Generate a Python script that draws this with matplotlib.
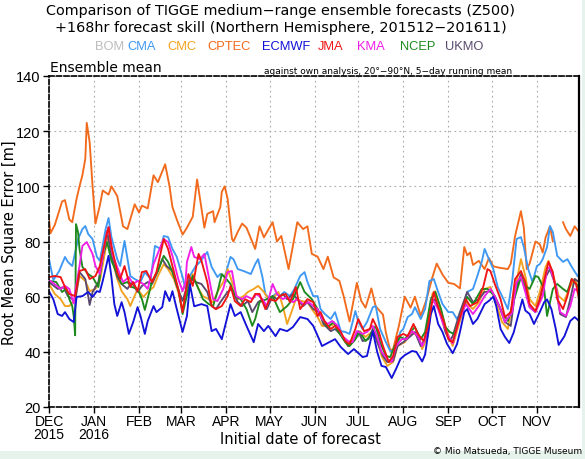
import numpy as np
import pandas as pd
import matplotlib
matplotlib.use("Agg")
import matplotlib.pyplot as plt
from matplotlib.patches import Rectangle
from matplotlib import font_manager

start = pd.Timestamp("2015-12-01")

# ---- data: (day offset from 2015-12-01, RMSE [m]) ----
cptec_d = [0,1,4,9,11,14,16,19,21,23,25,26,28,30,32,35,37,41,43,47,51,54,59,62,64,68,72,75,80,83,85,88,92,95,99,102,104,107,109,113,114,118,119,121,123,126,127,130,133,136,142,145,148,154,157,160,165,171,175,178,181,185,189,192,196,200,203,207,212,215,218,222,225,230,232,235,237,241,245,249,252,256,260,264,267,271,275,279,283,286,288,290,292,296,300,303,306,310,316,318,321,325,327,329,331,335,338,340,342,345,347,349,354,356,359,362,365]
cptec_v = [88,83,86,94.5,95,88,87,95.5,100,104,110,123,116,100,86.5,93,98.5,97,100,96.5,85.5,84.5,93.5,90.5,93,92,104,101.5,108,100,92.5,88,82.5,85,89,102.5,95.5,85,90,91,87,92.5,98,100,95.5,81,80,83.5,86.5,85,77.3,85.5,81.5,87,80,82,70,87,84.5,85.5,75.5,74.5,70,74.5,67,65.7,60,51,65,58.5,56,63,56.5,53.5,47,40.5,41,49.5,60,56,60,53,59,67,72,68,65,64.6,63,78,75,76,71.5,73,70,74,71,70.5,70,72,82,91,85,70,72,80,79,76,81.5,85.5,80,np.nan,87,84.5,82,85.5,83.5]

ecmwf_d = [0,3,6,9,11,14,17,19,23,27,30,33,35,37,41,43,45,47,50,52,55,58,61,63,66,68,72,74,78,80,83,85,88,92,95,97,100,105,109,112,115,119,123,125,128,132,136,141,144,148,151,156,159,164,168,173,178,182,186,188,193,197,201,206,210,216,219,223,226,229,232,236,239,242,245,250,253,257,259,263,265,268,271,274,278,281,283,286,288,292,295,300,303,306,308,311,314,317,320,323,326,328,331,334,338,341,343,346,349,351,355,359,362,365]
ecmwf_v = [62,59,53.7,53,54.4,51.9,50.8,59.9,60.2,61.7,59.9,62,61.7,65.7,74.8,67.1,57.3,53,58,54.4,46.5,50.8,56.2,53,46.5,51.2,56.6,54.4,56.2,62,58.4,62,55.5,47.2,53,64.5,56.5,57.3,56.6,47.5,48.3,44.6,53,57.3,53,54.4,49.4,43.5,50.1,47.5,49.4,45.7,48.3,47.5,49,52.6,51.9,49.4,44.6,42.1,43.5,44.6,41.7,39.2,41,38.1,38.5,47.5,40,34.9,34.5,30.5,33.8,37.4,38.8,40.3,40,36.5,39,53.7,56.6,50.1,47.2,43,39.5,42.8,47.2,54.4,55.5,50.1,51.9,57.3,58.5,60,56.6,48.3,45.4,43.2,47,53,59,55,53.7,50.1,54.4,58,59,55.5,48.3,42.5,45.7,51.2,52.6,51.2]

cma_d = [0,3,7,11,13,16,20,23,25,27,30,33,35,39,41,43,47,49,52,56,59,63,66,70,73,77,79,82,85,88,92,94,97,101,104,109,112,116,118,121,125,127,130,134,139,142,144,147,149,152,156,159,162,166,169,173,176,178,182,185,187,190,194,197,201,204,207,211,213,216,219,223,225,228,232,235,238,242,244,247,250,252,256,259,262,265,268,271,275,278,281,285,288,292,295,298,300,302,306,309,313,316,319,322,325,327,330,333,336,338,340,343,345,347,350,354,357,360,364]
cma_v = [73.6,66,69.3,74.4,72.6,71.1,80.9,84.5,85.6,82.7,80.9,74.4,73,84.5,88.5,81.6,73.6,71.1,80.2,67.5,66.4,65.3,68.9,66.4,78.4,77.3,82,81.6,77.3,74.4,67.1,62.8,67.5,71.1,72.6,76.2,70.8,67.1,68.2,67.1,74.4,73.6,70,69.3,68.2,71.8,73.6,67.1,61,59.1,61,60.2,61.7,60.2,62.8,67.5,68.9,65.3,60.2,60.2,55.5,53.7,51.9,54.4,47.5,47.2,46.5,54.8,50.8,48.3,50.8,56.2,56.6,48.3,43.5,40.3,40.3,47.2,48.3,52.6,53.7,56.2,51.9,55.5,65.7,66.4,61.7,57.3,54.4,54.4,51.9,55.5,61.7,62.8,67.5,72.6,77.3,74.8,70,63.5,59.1,55.5,65.7,80.9,81.6,78,70,65.3,71.1,71.8,73.6,78,85.6,83.4,74.8,72.6,73.6,70.8,67.5]

jma_d = [0,4,8,11,14,18,21,25,28,32,35,39,41,43,47,49,52,56,58,61,64,67,71,74,79,82,85,89,92,96,99,103,105,109,112,115,119,123,125,128,132,135,139,142,145,149,152,156,159,163,166,170,173,178,182,185,187,190,194,197,201,204,207,211,213,217,221,223,227,230,234,237,240,244,247,251,254,258,261,265,268,272,275,278,282,287,290,295,299,302,304,307,311,314,318,321,325,328,331,335,338,342,344,347,350,354,357,360,363,365]
jma_v = [67.1,67.5,67.1,63.5,61,60.2,69.3,70,66.4,67.5,71.1,80.9,85.2,78.4,68.9,66.4,71.1,63.5,65.3,62,68.9,69.3,65.3,68.9,80.9,77.3,71.1,62.8,54.4,68.2,63.9,75.5,73,65.3,56.6,55.5,56.6,60.2,63.9,58.4,56.6,59.1,58,61,61,55.5,59.1,58.4,60.2,61,58,63.5,55.5,59.1,58,53,54.4,50.8,48.3,49.4,47.2,43.9,42.8,48.3,51.9,47.5,48.3,51.9,47.5,42.1,36.3,38.5,45.4,46.5,45.7,50.1,46.5,43.9,49.4,61.7,56.2,50.8,44.6,43.5,50.8,59.1,56.6,58,63.5,70,69.3,64.6,59.1,52.6,54.4,66.4,69.3,65.3,57.3,54.8,59.1,68.2,72.6,68.9,59.1,55.5,60.2,66.4,64.6,59.1]

kma_d = [0,2,8,11,14,17,18,21,23,26,30,32,35,39,41,44,48,51,55,58,61,65,68,72,77,79,82,85,89,92,94,95,98,100,104,107,109,113,116,120,123,126,129,133,136,140,143,147,150,154,157,161,164,168,171,175,179,182,185,188,192,195,199,202,206,209,212,216,219,223,226,229,233,236,239,243,246,250,254,257,261,264,268,271,275,278,282,287,292,296,300,304,307,311,314,319,322,325,328,331,335,340,343,345,349,352,356,359,362,365]
kma_v = [66,65.3,62.8,63.9,62.8,57.5,61.7,71.1,78.4,79.8,75.5,71.1,68.2,80.9,85.2,74.8,69.3,65.3,67.1,64.6,65.7,64.6,62.8,71.8,78.4,80.9,79.8,74.8,66.4,62,65.3,72.6,78,74.4,73.6,75.5,70,59.1,58.4,62.8,68.9,69.3,60.2,59.1,60.2,59.1,61,59.1,56.6,64.6,61,59.1,59.9,58,59.1,57.3,58,56.6,55.5,51.9,50.1,51.2,49.4,45.7,43.9,43.5,47.5,46.5,47.2,49.4,45.7,40,37.4,36.3,42.1,44.6,44.6,47.5,45.7,42.1,47.2,59.1,55.5,50.8,45.7,43,50.8,57.3,53.7,56.6,60.2,62.8,60.2,55.5,50.8,54.4,65.3,67.1,61.7,56.2,54.4,60.2,70,70.8,63.9,54.4,53,56.6,62.8,61.7]

ncep_d = [0,5,9,12,14,16,17,18,18.6,20,21,23,27,30,34,37,40,43,47,50,54,57,61,64,66,71,75,79,82,85,89,92,96,99,103,106,110,113,116,119,121,125,128,132,136,140,142,145,150,154,159,164,168,173,176,181,185,188,192,196,199,204,207,211,214,218,221,225,228,232,235,238,242,245,249,252,256,259,263,266,270,273,276,279,283,288,292,298,302,307,312,316,321,325,328,331,335,337,341,343,347,350,354,357,360,364]
ncep_v = [65.7,65.3,61.7,62.8,59.1,56.6,53,46,86.3,83.4,77.3,70.8,68.2,67.1,63.5,74.8,79.8,73,68.2,64.6,65.3,63.5,62.8,59.1,55.2,65.7,69.3,74.8,72.6,68.9,62.8,53.7,62.8,67.5,62.8,59.1,57.3,56.6,61.7,68.2,67.1,64.6,60.2,59.1,55.5,49.4,51.9,58,59.1,60.2,54.4,56.6,59.1,65.3,61.7,59.1,55.5,51.9,49,50.8,47.5,43.5,42.1,44.6,47.2,43.9,45.7,49.4,43.5,38.5,38.1,42.1,45.4,44.6,47.2,49,44.6,47.2,59.1,61.7,55.5,49,47.2,46.5,52.6,59.9,57.3,62.8,62.8,60.2,54.4,51.2,60.2,67.1,63.9,62.8,67.5,67.1,62.8,53,62.8,64.6,62.8,61.7,66.4,63.9]

ukmo_d = [0,6,10,13,18,21,25,28,30,34,37,40,43,47,50,54,57,61,64,68,71,74,78,81,85,88,92,96,98,101,105,109,112,115,118,123,126,130,133,137,140,144,147,150,154,157,161,164,168,171,175,178,182,186,189,194,197,202,206,210,213,216,220,223,226,230,233,237,240,244,249,252,256,259,263,266,270,273,276,278,283,288,292,296,300,305,310,314,318,321,325,328,331,335,338,342,345,349,352,356,359,362,365]
ukmo_v = [65.3,62.8,63.5,60.2,58.4,68.9,66.4,57,61.7,65.3,74.4,83.8,74.8,67.1,64.6,62.8,65.3,61.7,63.9,65.3,64.6,68.2,73.6,71.1,69.3,63.9,58.5,65.3,66.4,65.3,64.6,61.7,56.6,55.5,58,61.7,62.8,58,56.6,58.4,54.4,58,59.1,55.5,60.2,59.1,61,59.1,61,59.1,56.6,58,55.5,54.4,50.1,47.5,48.3,45.7,42.1,43.9,47.5,43.9,44.6,48.3,43.5,38.5,36.3,36.7,42.1,43.5,45.7,47.2,42.1,44.6,58,59.1,53,47.2,43.9,45.7,54.4,61.7,58,59.1,61.7,62,56.6,50.8,49.4,61.7,68.2,62.8,56.2,54.4,59.1,67.1,70,63.9,53.7,52.6,59.1,66.4,65.3]

cmc_d = [0,4,8,11,14,18,21,25,28,32,35,39,41,43,47,50,54,56,58,61,65,68,72,75,79,82,86,89,92,96,99,103,106,110,113,116,120,123,127,130,134,137,141,144,148,151,155,158,161,164,167,170,174,178,181,185,188,193,197,202,206,211,214,218,223,226,229,233,237,240,245,250,254,257,261,264,266,269,273,276,278,282,287,292,296,300,304,307,312,316,321,325,328,331,335,338,342,344,348,351,355,358,362,365]
cmc_v = [64.6,61,59.1,56.6,56.6,59.1,67.5,65.7,62,62.8,65.7,77.3,82,74.8,66.4,62,59.1,56.6,59.1,62.8,59.9,61.7,63.5,67.5,71.8,70,66.4,61.7,55.5,63.9,68.2,62.8,60.2,59.1,58,61.7,65.3,70,63.9,59.1,60.2,61.7,62.8,63.9,61.7,59.1,59.9,61.7,56.6,50.1,54.4,59.1,58.4,58,55.5,52.6,49.4,49.4,50.1,45.7,42.1,45.7,47.5,45.4,47.5,44.6,38.5,34.9,36.3,42.1,43.5,47.2,45.7,41,45.7,61,62,56.6,49.4,44.6,42.1,49.4,58,55.5,58,62.8,63.5,59.1,50.8,48.3,62.8,73.6,67.5,59.1,56.6,61.7,70.8,73,66.4,60.2,58.4,62.8,66.4,62.8]

centres = ["BOM", "CMA", "CMC", "CPTEC", "ECMWF", "JMA", "KMA", "NCEP", "UKMO"]
colors = {"BOM": "#BDBDBD", "CMA": "#3F98F2", "CMC": "#F2A21E", "CPTEC": "#F26A1B",
          "ECMWF": "#1212D8", "JMA": "#F01414", "KMA": "#F01EE6", "NCEP": "#1E8A1E",
          "UKMO": "#5A4A6E"}
series = {"CMA": (cma_d, cma_v), "CMC": (cmc_d, cmc_v), "CPTEC": (cptec_d, cptec_v),
          "ECMWF": (ecmwf_d, ecmwf_v), "JMA": (jma_d, jma_v), "KMA": (kma_d, kma_v),
          "NCEP": (ncep_d, ncep_v), "UKMO": (ukmo_d, ukmo_v)}

month_labels = ["DEC\n2015", "JAN\n2016", "FEB", "MAR", "APR", "MAY", "JUN", "JUL",
                "AUG", "SEP", "OCT", "NOV"]
month_starts = pd.date_range("2015-12-01", "2016-11-01", freq="MS")

installed = {f.name for f in font_manager.fontManager.ttflist}
if "Liberation Sans Narrow" in installed:
    narrow, narrow_size = "Liberation Sans Narrow", 11.5
else:
    narrow, narrow_size = "Liberation Sans", 9.3

W, H = 585, 460
fig = plt.figure(figsize=(W / 100, H / 100), dpi=100)
fig.patch.set_facecolor("#E6F3EC")
fig.add_artist(Rectangle((0, 8 / H), (W - 3) / W, 1 - 8 / H, transform=fig.transFigure,
                         facecolor="white", edgecolor="none", zorder=-10))

ax = fig.add_axes([49 / W, 1 - 408 / H, 530 / W, 331 / H])

def to_dates(days):
    return start + pd.to_timedelta(np.asarray(days, dtype=float), unit="D")

for name in ["CPTEC", "CMA", "CMC", "UKMO", "NCEP", "KMA", "ECMWF", "JMA"]:
    d, v = series[name]
    ax.plot(to_dates(d), v, color=colors[name], lw=1.35, solid_joinstyle="round")

ax.set_xlim(start, pd.Timestamp("2016-11-30"))
ax.set_ylim(20, 140)
ax.set_yticks(np.arange(20, 141, 20))
ax.set_xticks(month_starts)
ax.set_xticklabels(month_labels, fontsize=10, family="Liberation Sans", linespacing=0.95)
ax.tick_params(axis="y", labelsize=10.5, direction="out", length=4, width=1, pad=2)
ax.tick_params(axis="x", direction="out", length=4, width=1, pad=1)
for lab in ax.get_yticklabels():
    lab.set_family("Liberation Sans")
ax.grid(True, color="#AAAAAA", linestyle=(0, (1.5, 3)), linewidth=0.8)
ax.set_axisbelow(True)

for side in ["top", "bottom", "left"]:
    ax.spines[side].set_linestyle((0, (3, 1.5)))
    ax.spines[side].set_linewidth(1.2)
ax.spines["right"].set_linewidth(1.6)

fig.text(280 / W, 1 - 11 / H, "Comparison of TIGGE medium\u2212range ensemble forecasts (Z500)",
         fontsize=10.4, ha="center", va="center", family="DejaVu Sans")
fig.text(281 / W, 1 - 28 / H, "+168hr forecast skill (Northern Hemisphere, 201512\u2212201611)",
         fontsize=10.4, ha="center", va="center", family="DejaVu Sans")

legend_x = [95, 127, 167, 207, 262, 318, 357, 400, 445]
for name, x in zip(centres, legend_x):
    fig.text(x / W, 1 - 47 / H, name, color=colors[name], fontsize=narrow_size,
             ha="left", va="center", family=narrow)

fig.text(50 / W, 1 - 68 / H, "Ensemble mean", fontsize=10, ha="left", va="center",
         family="DejaVu Sans")
fig.text(512 / W, 1 - 71 / H, "against own analysis, 20\u00b0\u221290\u00b0N, 5\u2212day running mean",
         fontsize=6.5, ha="right", va="center", family="DejaVu Sans")
fig.text(10 / W, 1 - 243 / H, "Root Mean Square Error [m]", rotation=90, fontsize=10.5,
         ha="center", va="center", family="DejaVu Sans")
fig.text(300 / W, 1 - 440 / H, "Initial date of forecast", fontsize=10.5, ha="center",
         va="center", family="DejaVu Sans")
fig.text(582 / W, 1 - 452 / H, "\u00a9 Mio Matsueda, TIGGE Museum", fontsize=6.5,
         ha="right", va="center", family="DejaVu Sans")

fig.savefig("out.png", dpi=100, facecolor=fig.get_facecolor())
